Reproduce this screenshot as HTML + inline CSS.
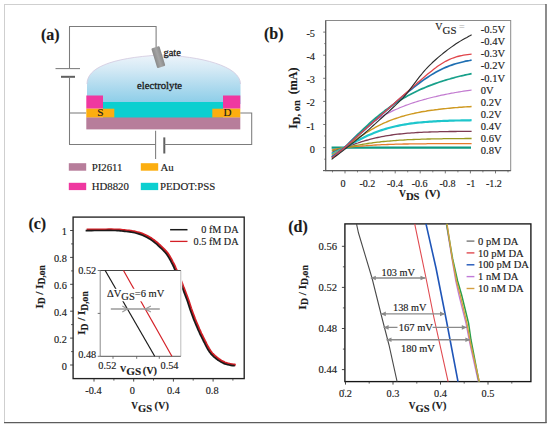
<!DOCTYPE html>
<html><head><meta charset="utf-8"><style>
html,body{margin:0;padding:0;background:#fff;}
body{width:550px;height:427px;overflow:hidden;}
svg{display:block;font-family:"Liberation Serif", serif;}
svg text{fill:#1a1a1a;stroke:#1a1a1a;stroke-width:0.15px;}
</style></head><body>
<svg width="550" height="427" viewBox="0 0 550 427">
<line x1="4" y1="4.5" x2="546" y2="4.5" stroke="#cfcfcf" stroke-width="1"/>
<line x1="4.5" y1="4" x2="4.5" y2="423" stroke="#cfcfcf" stroke-width="1"/>
<line x1="546" y1="4" x2="546" y2="423" stroke="#5c5c5c" stroke-width="1.4"/>
<line x1="4" y1="422.6" x2="546.6" y2="422.6" stroke="#5c5c5c" stroke-width="1.3"/>
<text x="41" y="39.5" font-size="16" font-weight="bold">(a)</text>
<polyline points="69.5,68.6 69.5,26.5 156.1,26.5 156.1,48" stroke="#7c7c7c" stroke-width="1.05" fill="none"/>
<line x1="55.5" y1="68.6" x2="80" y2="68.6" stroke="#7c7c7c" stroke-width="1.05" fill="none"/>
<line x1="61" y1="76.8" x2="75" y2="76.8" stroke="#606060" stroke-width="2"/>
<polyline points="69.5,76.8 69.5,144.4 155.6,144.4" stroke="#7c7c7c" stroke-width="1.05" fill="none"/>
<line x1="69.5" y1="113" x2="86" y2="113" stroke="#7c7c7c" stroke-width="1.05" fill="none"/>
<line x1="155.6" y1="130.7" x2="155.6" y2="159" stroke="#7c7c7c" stroke-width="1.05" fill="none"/>
<line x1="164.3" y1="137.4" x2="164.3" y2="153.5" stroke="#606060" stroke-width="2"/>
<polyline points="164.3,144.4 251.7,144.4 251.7,113 240.2,113" stroke="#7c7c7c" stroke-width="1.05" fill="none"/>
<defs><linearGradient id="dome" x1="0" y1="0" x2="0" y2="1"><stop offset="0" stop-color="#edf4fa"/><stop offset="0.3" stop-color="#d3e9f5"/><stop offset="0.65" stop-color="#aedaee"/><stop offset="1" stop-color="#8acde8"/></linearGradient><linearGradient id="gate" x1="0" y1="0" x2="1" y2="0"><stop offset="0" stop-color="#8a8a8a"/><stop offset="0.5" stop-color="#a4a4a4"/><stop offset="1" stop-color="#8a8a8a"/></linearGradient></defs>
<path d="M87,104 L87,84 C87,68 110,58 160,55 C200,56 240.5,66 240.5,84 L240.5,104 Z" fill="url(#dome)" stroke="none"/>
<path d="M87,84 C87,68 110,58 160,55 C200,56 240.5,66 240.5,84" fill="none" stroke="#d2c8de" stroke-width="0.8"/>
<rect x="103" y="102" width="120" height="16" fill="#0ccfd0"/>
<rect x="86.3" y="95.5" width="16.7" height="13.2" fill="#ef38a0"/>
<rect x="223" y="95.5" width="17.3" height="13.2" fill="#ef38a0"/>
<rect x="86.3" y="108.7" width="28" height="9" fill="#fcae10"/>
<rect x="212.3" y="108.7" width="28" height="9" fill="#fcae10"/>
<rect x="86.3" y="117.5" width="154" height="11.9" fill="#b77d9b"/>
<text x="97.3" y="116.4" font-size="11.3">S</text>
<text x="223.4" y="116.4" font-size="11">D</text>
<text x="137" y="89.2" font-size="10.7" style="stroke-width:0.3px">electrolyte</text>
<rect x="154.2" y="46.8" width="8.5" height="20.6" rx="1" fill="url(#gate)" transform="rotate(-17 158.45 57.5)"/>
<text x="163.5" y="55.7" font-size="10.4" style="stroke-width:0.3px">gate</text>
<rect x="68.8" y="163.2" width="17.4" height="7.5" fill="#b77d9b"/>
<rect x="68.8" y="182.8" width="17.4" height="7.3" fill="#ef38a0"/>
<rect x="140.8" y="163.2" width="17.4" height="7.5" fill="#fcae10"/>
<rect x="140.8" y="182.8" width="17.4" height="7.3" fill="#0ccfd0"/>
<text x="91.7" y="170.5" font-size="10.8">PI2611</text>
<text x="91.7" y="189.5" font-size="10.8">HD8820</text>
<text x="160.5" y="170.5" font-size="10.8">Au</text>
<text x="160" y="189.5" font-size="10.8">PEDOT:PSS</text>
<text x="264" y="38.5" font-size="16" font-weight="bold">(b)</text>
<rect x="325.7" y="20.5" width="185.0" height="150.1" fill="none" stroke="#8a8a8a" stroke-width="1"/>
<polyline points="325.7,20.5 325.7,170.6 510.7,170.6" fill="none" stroke="#5a5a5a" stroke-width="1.1"/>
<line x1="323" y1="170.6" x2="325.7" y2="170.6" stroke="#5a5a5a" stroke-width="1.1"/>
<line x1="323.2" y1="147.6" x2="325.7" y2="147.6" stroke="#555" stroke-width="0.8"/>
<text x="315" y="152.6" font-size="10.3" text-anchor="end">0</text>
<line x1="323.2" y1="124.5" x2="325.7" y2="124.5" stroke="#555" stroke-width="0.8"/>
<text x="315" y="129.5" font-size="10.3" text-anchor="end">-1</text>
<line x1="323.2" y1="101.4" x2="325.7" y2="101.4" stroke="#555" stroke-width="0.8"/>
<text x="315" y="106.4" font-size="10.3" text-anchor="end">-2</text>
<line x1="323.2" y1="78.3" x2="325.7" y2="78.3" stroke="#555" stroke-width="0.8"/>
<text x="315" y="83.3" font-size="10.3" text-anchor="end">-3</text>
<line x1="323.2" y1="55.2" x2="325.7" y2="55.2" stroke="#555" stroke-width="0.8"/>
<text x="315" y="60.2" font-size="10.3" text-anchor="end">-4</text>
<line x1="323.2" y1="32.1" x2="325.7" y2="32.1" stroke="#555" stroke-width="0.8"/>
<text x="315" y="37.1" font-size="10.3" text-anchor="end">-5</text>
<line x1="324.2" y1="159.2" x2="325.7" y2="159.2" stroke="#555" stroke-width="0.7"/>
<line x1="324.2" y1="136.0" x2="325.7" y2="136.0" stroke="#555" stroke-width="0.7"/>
<line x1="324.2" y1="112.9" x2="325.7" y2="112.9" stroke="#555" stroke-width="0.7"/>
<line x1="324.2" y1="89.8" x2="325.7" y2="89.8" stroke="#555" stroke-width="0.7"/>
<line x1="324.2" y1="66.7" x2="325.7" y2="66.7" stroke="#555" stroke-width="0.7"/>
<line x1="324.2" y1="43.6" x2="325.7" y2="43.6" stroke="#555" stroke-width="0.7"/>
<line x1="345.0" y1="170.6" x2="345.0" y2="173.4" stroke="#555" stroke-width="0.8"/>
<line x1="357.5" y1="170.6" x2="357.5" y2="172.4" stroke="#555" stroke-width="0.7"/>
<text x="340.4" y="187.4" font-size="10.1">0</text>
<line x1="370.1" y1="170.6" x2="370.1" y2="173.4" stroke="#555" stroke-width="0.8"/>
<line x1="382.6" y1="170.6" x2="382.6" y2="172.4" stroke="#555" stroke-width="0.7"/>
<text x="359.4" y="187.4" font-size="10.1">-0.2</text>
<line x1="395.2" y1="170.6" x2="395.2" y2="173.4" stroke="#555" stroke-width="0.8"/>
<line x1="407.7" y1="170.6" x2="407.7" y2="172.4" stroke="#555" stroke-width="0.7"/>
<text x="387.0" y="187.4" font-size="10.1">-0.4</text>
<line x1="420.2" y1="170.6" x2="420.2" y2="173.4" stroke="#555" stroke-width="0.8"/>
<line x1="432.8" y1="170.6" x2="432.8" y2="172.4" stroke="#555" stroke-width="0.7"/>
<text x="411.7" y="187.4" font-size="10.1">-0.6</text>
<line x1="445.3" y1="170.6" x2="445.3" y2="173.4" stroke="#555" stroke-width="0.8"/>
<line x1="457.9" y1="170.6" x2="457.9" y2="172.4" stroke="#555" stroke-width="0.7"/>
<text x="439.5" y="187.4" font-size="10.1">-0.8</text>
<line x1="470.4" y1="170.6" x2="470.4" y2="173.4" stroke="#555" stroke-width="0.8"/>
<line x1="482.9" y1="170.6" x2="482.9" y2="172.4" stroke="#555" stroke-width="0.7"/>
<text x="466.8" y="187.4" font-size="10.1">-1</text>
<line x1="495.5" y1="170.6" x2="495.5" y2="173.4" stroke="#555" stroke-width="0.8"/>
<line x1="508.0" y1="170.6" x2="508.0" y2="172.4" stroke="#555" stroke-width="0.7"/>
<text x="485.9" y="187.4" font-size="10.1">-1.2</text>
<line x1="332.5" y1="170.6" x2="332.5" y2="172.4" stroke="#555" stroke-width="0.7"/>
<text x="399" y="196.8" font-size="9.6" font-weight="bold" xml:space="preserve">V<tspan font-size="10.6" dy="3.3">DS</tspan><tspan font-size="11" dy="-3.3">  (V)</tspan></text>
<text transform="translate(297.3 128.8) rotate(-90)" font-size="12" font-weight="bold" xml:space="preserve">I<tspan font-size="10.5" dy="2.6">D, on</tspan><tspan dy="-2.6">  (mA)</tspan></text>
<line x1="331.6" y1="147.6" x2="471" y2="147.6" stroke="#0f9a82" stroke-width="2.4"/>
<polyline points="331.8,150.0 333.8,149.6 335.8,149.2 337.8,148.8 339.8,148.4 341.8,148.0 343.8,147.6 345.8,147.3 347.8,147.1 349.8,147.0 351.8,146.8 353.8,146.6 355.8,146.4 357.8,146.3 359.8,146.1 361.8,146.0 363.8,145.8 365.8,145.7 367.7,145.5 369.7,145.4 371.7,145.3 373.7,145.1 375.7,145.0 377.7,144.9 379.7,144.8 381.7,144.7 383.7,144.6 385.7,144.6 387.7,144.5 389.7,144.4 391.7,144.3 393.7,144.3 395.7,144.2 397.7,144.2 399.7,144.1 401.7,144.1 403.7,144.0 405.7,144.0 407.7,144.0 409.7,143.9 411.7,143.9 413.7,143.9 415.7,143.9 417.7,143.8 419.7,143.8 421.7,143.8 423.7,143.8 425.7,143.8 427.7,143.7 429.7,143.7 431.7,143.7 433.7,143.7 435.7,143.7 437.6,143.7 439.6,143.7 441.6,143.7 443.6,143.7 445.6,143.7 447.6,143.7 449.6,143.7 451.6,143.6 453.6,143.6 455.6,143.6 457.6,143.6 459.6,143.6 461.6,143.6 463.6,143.6 465.6,143.6 467.6,143.6 469.6,143.6 471.6,143.6" fill="none" stroke="#e67a2a" stroke-width="1.3"/>
<polyline points="331.8,151.0 333.8,150.4 335.8,149.9 337.8,149.3 339.8,148.8 341.8,148.2 343.8,147.7 345.8,147.2 347.8,146.9 349.8,146.5 351.8,146.2 353.8,145.8 355.8,145.5 357.8,145.1 359.8,144.8 361.8,144.5 363.8,144.1 365.8,143.8 367.7,143.5 369.7,143.2 371.7,143.0 373.7,142.7 375.7,142.4 377.7,142.2 379.7,142.0 381.7,141.7 383.7,141.5 385.7,141.3 387.7,141.1 389.7,141.0 391.7,140.8 393.7,140.6 395.7,140.5 397.7,140.3 399.7,140.2 401.7,140.1 403.7,140.0 405.7,139.8 407.7,139.7 409.7,139.6 411.7,139.6 413.7,139.5 415.7,139.4 417.7,139.3 419.7,139.3 421.7,139.2 423.7,139.1 425.7,139.1 427.7,139.0 429.7,139.0 431.7,138.9 433.7,138.9 435.7,138.9 437.6,138.8 439.6,138.8 441.6,138.8 443.6,138.7 445.6,138.7 447.6,138.7 449.6,138.7 451.6,138.6 453.6,138.6 455.6,138.6 457.6,138.6 459.6,138.6 461.6,138.6 463.6,138.6 465.6,138.5 467.6,138.5 469.6,138.5 471.6,138.5" fill="none" stroke="#9a9a20" stroke-width="1.3"/>
<polyline points="331.8,152.5 333.8,151.7 335.8,150.9 337.8,150.1 339.8,149.4 341.8,148.6 343.8,147.8 345.8,147.1 347.8,146.4 349.8,145.7 351.8,145.0 353.8,144.3 355.8,143.6 357.8,143.0 359.8,142.3 361.8,141.7 363.8,141.1 365.8,140.5 367.7,140.0 369.7,139.4 371.7,138.9 373.7,138.4 375.7,137.9 377.7,137.5 379.7,137.1 381.7,136.7 383.7,136.3 385.7,135.9 387.7,135.6 389.7,135.3 391.7,135.0 393.7,134.7 395.7,134.4 397.7,134.2 399.7,134.0 401.7,133.8 403.7,133.6 405.7,133.4 407.7,133.2 409.7,133.1 411.7,132.9 413.7,132.8 415.7,132.6 417.7,132.5 419.7,132.4 421.7,132.3 423.7,132.2 425.7,132.2 427.7,132.1 429.7,132.0 431.7,131.9 433.7,131.9 435.7,131.8 437.6,131.8 439.6,131.7 441.6,131.7 443.6,131.6 445.6,131.6 447.6,131.6 449.6,131.5 451.6,131.5 453.6,131.5 455.6,131.5 457.6,131.4 459.6,131.4 461.6,131.4 463.6,131.4 465.6,131.4 467.6,131.4 469.6,131.3 471.6,131.3" fill="none" stroke="#7d3b52" stroke-width="1.3"/>
<polyline points="331.8,154.0 333.8,153.0 335.8,152.0 337.8,151.0 339.8,149.9 341.8,148.9 343.8,147.9 345.8,146.9 347.8,145.8 349.8,144.7 351.8,143.6 353.8,142.5 355.8,141.5 357.8,140.4 359.8,139.4 361.8,138.4 363.8,137.4 365.8,136.5 367.7,135.6 369.7,134.7 371.7,133.9 373.7,133.1 375.7,132.3 377.7,131.5 379.7,130.8 381.7,130.1 383.7,129.5 385.7,128.9 387.7,128.3 389.7,127.7 391.7,127.2 393.7,126.7 395.7,126.2 397.7,125.8 399.7,125.4 401.7,125.0 403.7,124.7 405.7,124.3 407.7,124.0 409.7,123.7 411.7,123.4 413.7,123.2 415.7,122.9 417.7,122.7 419.7,122.5 421.7,122.3 423.7,122.1 425.7,122.0 427.7,121.8 429.7,121.7 431.7,121.6 433.7,121.4 435.7,121.3 437.6,121.2 439.6,121.1 441.6,121.0 443.6,120.9 445.6,120.9 447.6,120.8 449.6,120.7 451.6,120.7 453.6,120.6 455.6,120.5 457.6,120.5 459.6,120.5 461.6,120.4 463.6,120.4 465.6,120.3 467.6,120.3 469.6,120.3 471.6,120.2" fill="none" stroke="#1ec6cc" stroke-width="2.2"/>
<polyline points="331.8,155.0 333.8,153.8 335.8,152.7 337.8,151.5 339.8,150.3 341.8,149.2 343.8,148.0 345.8,146.7 347.8,145.3 349.8,143.8 351.8,142.4 353.8,141.0 355.8,139.6 357.8,138.2 359.8,136.9 361.8,135.6 363.8,134.3 365.8,133.0 367.7,131.8 369.7,130.6 371.7,129.4 373.7,128.3 375.7,127.2 377.7,126.1 379.7,125.1 381.7,124.2 383.7,123.2 385.7,122.4 387.7,121.5 389.7,120.7 391.7,119.9 393.7,119.2 395.7,118.5 397.7,117.8 399.7,117.2 401.7,116.5 403.7,116.0 405.7,115.4 407.7,114.9 409.7,114.4 411.7,113.9 413.7,113.5 415.7,113.0 417.7,112.6 419.7,112.2 421.7,111.8 423.7,111.5 425.7,111.2 427.7,110.8 429.7,110.5 431.7,110.2 433.7,110.0 435.7,109.7 437.6,109.5 439.6,109.2 441.6,109.0 443.6,108.8 445.6,108.6 447.6,108.4 449.6,108.2 451.6,108.0 453.6,107.8 455.6,107.6 457.6,107.5 459.6,107.3 461.6,107.2 463.6,107.0 465.6,106.9 467.6,106.8 469.6,106.7 471.6,106.5" fill="none" stroke="#cf9a22" stroke-width="1.4"/>
<polyline points="331.8,156.0 333.8,154.7 335.8,153.4 337.8,152.0 339.8,150.7 341.8,149.4 343.8,148.1 345.8,146.3 347.8,144.2 349.8,142.0 351.8,140.0 353.8,138.0 355.8,136.1 357.8,134.2 359.8,132.4 361.8,130.7 363.8,129.1 365.8,127.5 367.7,125.9 369.7,124.4 371.7,123.0 373.7,121.6 375.7,120.3 377.7,119.0 379.7,117.8 381.7,116.6 383.7,115.5 385.7,114.4 387.7,113.4 389.7,112.4 391.7,111.4 393.7,110.4 395.7,109.5 397.7,108.7 399.7,107.8 401.7,107.0 403.7,106.2 405.7,105.4 407.7,104.7 409.7,104.0 411.7,103.3 413.7,102.6 415.7,102.0 417.7,101.4 419.7,100.8 421.7,100.2 423.7,99.6 425.7,99.1 427.7,98.5 429.7,98.0 431.7,97.5 433.7,97.0 435.7,96.6 437.6,96.1 439.6,95.7 441.6,95.2 443.6,94.8 445.6,94.4 447.6,94.0 449.6,93.6 451.6,93.2 453.6,92.9 455.6,92.5 457.6,92.2 459.6,91.8 461.6,91.5 463.6,91.2 465.6,90.9 467.6,90.6 469.6,90.3 471.6,90.0" fill="none" stroke="#c27ad0" stroke-width="1.2"/>
<polyline points="331.8,157.0 333.8,155.5 335.8,154.1 337.8,152.6 339.8,151.1 341.8,149.6 343.8,148.2 345.8,146.4 347.8,144.4 349.8,142.4 351.8,140.4 353.8,138.4 355.8,136.4 357.8,134.4 359.8,132.5 361.8,130.6 363.8,128.7 365.8,126.8 367.7,125.0 369.7,123.2 371.7,121.4 373.7,119.7 375.7,118.0 377.7,116.3 379.7,114.7 381.7,113.1 383.7,111.6 385.7,110.0 387.7,108.6 389.7,107.1 391.7,105.7 393.7,104.4 395.7,103.0 397.7,101.7 399.7,100.5 401.7,99.3 403.7,98.1 405.7,96.9 407.7,95.8 409.7,94.8 411.7,93.7 413.7,92.7 415.7,91.7 417.7,90.8 419.7,89.8 421.7,88.9 423.7,88.1 425.7,87.2 427.7,86.4 429.7,85.6 431.7,84.9 433.7,84.1 435.7,83.4 437.6,82.7 439.6,82.0 441.6,81.4 443.6,80.7 445.6,80.1 447.6,79.5 449.6,79.0 451.6,78.4 453.6,77.9 455.6,77.3 457.6,76.8 459.6,76.3 461.6,75.8 463.6,75.4 465.6,74.9 467.6,74.5 469.6,74.1 471.6,73.7" fill="none" stroke="#17a08a" stroke-width="1.7"/>
<polyline points="331.8,157.5 333.8,155.9 335.8,154.4 337.8,152.8 339.8,151.3 341.8,149.7 343.8,148.2 345.8,146.5 347.8,144.8 349.8,143.0 351.8,141.2 353.8,139.4 355.8,137.7 357.8,135.9 359.8,134.1 361.8,132.4 363.8,130.6 365.8,128.8 367.7,127.0 369.7,125.3 371.7,123.5 373.7,121.7 375.7,120.0 377.7,118.2 379.7,116.4 381.7,114.7 383.7,112.9 385.7,111.1 387.7,109.4 389.7,107.6 391.7,105.9 393.7,104.1 395.7,102.4 397.7,100.7 399.7,98.9 401.7,97.2 403.7,95.5 405.7,93.9 407.7,92.2 409.7,90.6 411.7,89.0 413.7,87.4 415.7,85.8 417.7,84.3 419.7,82.8 421.7,81.3 423.7,79.9 425.7,78.5 427.7,77.2 429.7,75.9 431.7,74.6 433.7,73.4 435.7,72.3 437.6,71.2 439.6,70.2 441.6,69.2 443.6,68.3 445.6,67.4 447.6,66.6 449.6,65.8 451.6,65.1 453.6,64.4 455.6,63.8 457.6,63.2 459.6,62.7 461.6,62.2 463.6,61.7 465.6,61.2 467.6,60.8 469.6,60.5 471.6,60.1" fill="none" stroke="#1f6fb2" stroke-width="1.7"/>
<polyline points="331.8,158.0 333.8,156.4 335.8,154.7 337.8,153.1 339.8,151.5 341.8,149.9 343.8,148.2 345.8,146.5 347.8,144.8 349.8,143.0 351.8,141.2 353.8,139.4 355.8,137.6 357.8,135.9 359.8,134.1 361.8,132.3 363.8,130.5 365.8,128.8 367.7,127.0 369.7,125.2 371.7,123.4 373.7,121.6 375.7,119.9 377.7,118.1 379.7,116.3 381.7,114.5 383.7,112.8 385.7,111.0 387.7,109.2 389.7,107.4 391.7,105.6 393.7,103.9 395.7,102.1 397.7,100.3 399.7,98.5 401.7,96.8 403.7,95.0 405.7,93.2 407.7,91.4 409.7,89.7 411.7,87.9 413.7,86.1 415.7,84.4 417.7,82.6 419.7,80.9 421.7,79.2 423.7,77.5 425.7,75.8 427.7,74.1 429.7,72.5 431.7,70.9 433.7,69.3 435.7,67.8 437.6,66.3 439.6,65.0 441.6,63.7 443.6,62.5 445.6,61.3 447.6,60.3 449.6,59.4 451.6,58.5 453.6,57.8 455.6,57.1 457.6,56.5 459.6,56.0 461.6,55.6 463.6,55.2 465.6,54.9 467.6,54.6 469.6,54.3 471.6,54.1" fill="none" stroke="#e0454a" stroke-width="1.3"/>
<polyline points="331.6,159.4 332.7,158.5 334.2,157.4 336.0,156.0 338.0,154.5 340.1,152.9 342.2,151.2 344.4,149.6 346.4,148.0 348.4,146.4 350.4,144.9 352.4,143.2 354.5,141.6 356.6,139.9 358.7,138.2 360.7,136.5 362.8,134.8 364.9,133.0 367.0,131.2 369.1,129.3 371.2,127.4 373.3,125.5 375.4,123.6 377.3,121.8 379.2,120.1 381.0,118.5 382.7,117.0 384.3,115.5 385.8,114.1 387.4,112.8 388.9,111.4 390.4,110.0 392.0,108.5 393.6,107.0 395.1,105.6 396.6,104.2 398.2,102.7 399.7,101.2 401.3,99.7 402.8,98.1 404.4,96.3 406.0,94.4 407.7,92.3 409.4,90.1 411.1,87.8 412.8,85.5 414.5,83.3 416.0,81.3 417.5,79.4 418.8,77.7 420.0,76.2 421.1,74.8 422.2,73.5 423.3,72.2 424.4,70.9 425.6,69.5 426.9,68.1 428.3,66.6 429.8,65.1 431.4,63.6 433.0,62.0 434.7,60.5 436.4,59.0 438.2,57.4 440.0,55.9 441.9,54.4 443.8,52.8 445.8,51.2 447.8,49.6 449.9,48.1 452.0,46.6 454.0,45.2 456.0,43.8 458.1,42.5 460.3,41.1 462.6,39.8 464.8,38.5 466.9,37.4 468.8,36.3 470.4,35.5 471.6,34.8" fill="none" stroke="#2a2a2a" stroke-width="1.1"/>
<text x="435.3" y="30.3" font-size="10">V<tspan font-size="10.9" dy="3.2">GS</tspan></text>
<text x="459" y="30.3" font-size="10" fill="#aaa" style="fill:#aaa;stroke:#aaa">=</text>
<text x="480.8" y="33.2" font-size="10.5">-0.5V</text>
<text x="480.8" y="45.3" font-size="10.5">-0.4V</text>
<text x="480.8" y="57.3" font-size="10.5">-0.3V</text>
<text x="480.8" y="69.4" font-size="10.5">-0.2V</text>
<text x="480.8" y="81.5" font-size="10.5">-0.1V</text>
<text x="480.8" y="93.6" font-size="10.5">0V</text>
<text x="480.8" y="105.6" font-size="10.5">0.2V</text>
<text x="480.8" y="117.7" font-size="10.5">0.2V</text>
<text x="480.8" y="129.8" font-size="10.5">0.4V</text>
<text x="480.8" y="141.8" font-size="10.5">0.6V</text>
<text x="480.8" y="153.9" font-size="10.5">0.8V</text>
<text x="28.4" y="228.6" font-size="16" font-weight="bold">(c)</text>
<rect x="73.1" y="217.1" width="171.1" height="161.50000000000003" fill="none" stroke="#222" stroke-width="1.35"/>
<line x1="70.1" y1="365.0" x2="73.1" y2="365.0" stroke="#333" stroke-width="0.9"/>
<text x="66.8" y="369.5" font-size="10.3" text-anchor="end">0</text>
<line x1="71.1" y1="351.6" x2="73.1" y2="351.6" stroke="#333" stroke-width="0.8"/>
<line x1="70.1" y1="338.1" x2="73.1" y2="338.1" stroke="#333" stroke-width="0.9"/>
<text x="66.8" y="342.6" font-size="10.3" text-anchor="end">0.2</text>
<line x1="71.1" y1="324.6" x2="73.1" y2="324.6" stroke="#333" stroke-width="0.8"/>
<line x1="70.1" y1="311.2" x2="73.1" y2="311.2" stroke="#333" stroke-width="0.9"/>
<text x="66.8" y="315.7" font-size="10.3" text-anchor="end">0.4</text>
<line x1="71.1" y1="297.8" x2="73.1" y2="297.8" stroke="#333" stroke-width="0.8"/>
<line x1="70.1" y1="284.3" x2="73.1" y2="284.3" stroke="#333" stroke-width="0.9"/>
<text x="66.8" y="288.8" font-size="10.3" text-anchor="end">0.6</text>
<line x1="71.1" y1="270.9" x2="73.1" y2="270.9" stroke="#333" stroke-width="0.8"/>
<line x1="70.1" y1="257.4" x2="73.1" y2="257.4" stroke="#333" stroke-width="0.9"/>
<text x="66.8" y="261.9" font-size="10.3" text-anchor="end">0.8</text>
<line x1="71.1" y1="243.9" x2="73.1" y2="243.9" stroke="#333" stroke-width="0.8"/>
<line x1="70.1" y1="230.5" x2="73.1" y2="230.5" stroke="#333" stroke-width="0.9"/>
<text x="66.8" y="235.0" font-size="10.3" text-anchor="end">1</text>
<line x1="94.0" y1="378.6" x2="94.0" y2="381.6" stroke="#333" stroke-width="0.9"/>
<text x="93.4" y="394" font-size="10.3" text-anchor="middle">-0.4</text>
<line x1="133.7" y1="378.6" x2="133.7" y2="381.6" stroke="#333" stroke-width="0.9"/>
<text x="132.3" y="394" font-size="10.3" text-anchor="middle">0</text>
<line x1="173.4" y1="378.6" x2="173.4" y2="381.6" stroke="#333" stroke-width="0.9"/>
<text x="173.4" y="394" font-size="10.3" text-anchor="middle">0.4</text>
<line x1="213.1" y1="378.6" x2="213.1" y2="381.6" stroke="#333" stroke-width="0.9"/>
<text x="212.1" y="394" font-size="10.3" text-anchor="middle">0.8</text>
<line x1="113.9" y1="378.6" x2="113.9" y2="380.6" stroke="#333" stroke-width="0.8"/>
<line x1="153.5" y1="378.6" x2="153.5" y2="380.6" stroke="#333" stroke-width="0.8"/>
<line x1="193.2" y1="378.6" x2="193.2" y2="380.6" stroke="#333" stroke-width="0.8"/>
<line x1="232.9" y1="378.6" x2="232.9" y2="380.6" stroke="#333" stroke-width="0.8"/>
<text x="131.3" y="408.7" font-size="9.3" font-weight="bold" xml:space="preserve">V<tspan font-size="10.5" dy="3.2">GS</tspan><tspan font-size="10.3" dy="-3.2"> (V)</tspan></text>
<text transform="translate(42.5 308.6) rotate(-90)" font-size="11" font-weight="bold">I<tspan font-size="9.6" dy="2.4">D</tspan><tspan dy="-2.4"> / I</tspan><tspan font-size="9.6" dy="2.4">D,on</tspan></text>
<polyline points="86.6,229.7 88.1,229.7 90.2,229.7 92.7,229.7 95.4,229.6 98.1,229.6 100.7,229.6 103.3,229.6 106.0,229.6 108.8,229.5 111.5,229.5 114.0,229.6 116.3,229.6 118.2,229.7 119.9,229.8 121.3,229.9 122.8,230.1 124.2,230.2 125.7,230.4 127.3,230.6 129.0,230.8 130.7,231.0 132.4,231.3 134.1,231.5 135.7,231.9 137.3,232.3 138.9,232.7 140.4,233.2 142.0,233.7 143.5,234.3 145.1,235.0 146.7,235.8 148.2,236.6 149.8,237.5 151.3,238.4 152.8,239.5 154.4,240.6 156.0,241.9 157.7,243.3 159.4,244.8 161.0,246.4 162.5,247.8 163.8,249.1 164.9,250.2 165.7,251.1 166.4,251.9 167.1,252.7 167.8,253.6 168.5,254.7 169.3,255.9 170.1,257.3 171.0,258.8 171.8,260.3 172.5,261.7 173.2,263.0 173.8,264.1 174.2,265.1 174.7,266.0 175.1,267.0 175.6,268.2 176.3,269.7 177.1,271.6 178.1,273.9 179.1,276.4 180.2,278.9 181.2,281.5 182.2,284.0 183.1,286.4 184.1,288.8 185.0,291.2 185.9,293.6 186.8,296.0 187.7,298.4 188.6,300.9 189.4,303.3 190.2,305.8 191.0,308.3 191.9,310.9 192.8,313.4 193.8,316.0 194.8,318.7 195.9,321.4 197.0,324.0 198.1,326.5 199.1,328.9 200.1,331.1 201.0,333.2 202.0,335.1 202.9,337.0 203.8,338.8 204.7,340.6 205.6,342.3 206.4,344.0 207.3,345.7 208.1,347.2 208.9,348.6 209.7,349.9 210.4,351.0 211.1,351.9 211.7,352.7 212.4,353.5 213.1,354.2 213.9,355.0 214.8,355.9 215.8,356.7 216.9,357.6 218.0,358.5 219.1,359.3 220.2,360.0 221.3,360.7 222.4,361.3 223.6,361.9 224.7,362.5 225.9,363.0 227.2,363.4 228.6,363.8 230.2,364.1 231.9,364.4 233.4,364.7 234.8,364.8 235.7,365.0" fill="none" stroke="#d41f26" stroke-width="2.4" stroke-linejoin="round"/>
<polyline points="85.6,230.6 87.1,230.6 89.2,230.6 91.7,230.6 94.4,230.5 97.1,230.5 99.7,230.5 102.3,230.5 105.0,230.5 107.8,230.4 110.5,230.4 113.0,230.5 115.3,230.5 117.2,230.6 118.9,230.7 120.3,230.8 121.8,231.0 123.2,231.1 124.7,231.3 126.3,231.5 128.0,231.7 129.7,231.9 131.4,232.2 133.1,232.4 134.7,232.8 136.3,233.2 137.9,233.6 139.4,234.1 141.0,234.6 142.5,235.2 144.1,235.9 145.7,236.7 147.2,237.5 148.8,238.4 150.3,239.3 151.8,240.4 153.4,241.5 155.0,242.8 156.7,244.2 158.4,245.8 160.0,247.3 161.5,248.7 162.8,250.0 163.9,251.1 164.7,252.0 165.4,252.8 166.1,253.6 166.8,254.5 167.5,255.6 168.3,256.8 169.1,258.2 170.0,259.7 170.8,261.2 171.5,262.6 172.2,263.9 172.8,265.0 173.2,266.0 173.7,266.9 174.1,267.9 174.6,269.1 175.3,270.6 176.1,272.5 177.1,274.8 178.1,277.3 179.2,279.8 180.2,282.4 181.2,284.9 182.1,287.3 183.1,289.7 184.0,292.1 184.9,294.5 185.8,296.9 186.7,299.3 187.6,301.8 188.4,304.2 189.2,306.7 190.0,309.2 190.9,311.8 191.8,314.3 192.8,316.9 193.8,319.6 194.9,322.3 196.0,324.9 197.1,327.4 198.1,329.8 199.1,332.0 200.0,334.1 201.0,336.0 201.9,337.9 202.8,339.7 203.7,341.5 204.6,343.2 205.4,344.9 206.3,346.6 207.1,348.1 207.9,349.5 208.7,350.8 209.4,351.9 210.1,352.8 210.7,353.6 211.4,354.4 212.1,355.1 212.9,355.9 213.8,356.8 214.8,357.6 215.9,358.5 217.0,359.4 218.1,360.2 219.2,360.9 220.3,361.6 221.4,362.2 222.6,362.8 223.7,363.4 224.9,363.9 226.2,364.3 227.6,364.7 229.2,365.0 230.9,365.3 232.4,365.6 233.8,365.7 234.7,365.9" fill="none" stroke="#1a1a1a" stroke-width="1.7" stroke-linejoin="round"/>
<line x1="170.1" y1="229.7" x2="187.5" y2="229.7" stroke="#1a1a1a" stroke-width="1.5"/>
<line x1="170.1" y1="241.4" x2="187.5" y2="241.4" stroke="#d41f26" stroke-width="1.3"/>
<text x="238.6" y="233.3" font-size="10.2" text-anchor="end">0 fM DA</text>
<text x="238.6" y="244.9" font-size="10.2" text-anchor="end">0.5 fM DA</text>
<rect x="100.2" y="270.5" width="82.00000000000001" height="85.80000000000001" fill="#fff" stroke="none"/>
<line x1="100.2" y1="270.5" x2="100.2" y2="356.3" stroke="#8a8a8a" stroke-width="1"/>
<line x1="180.8" y1="270.5" x2="180.8" y2="356.3" stroke="#bdbdbd" stroke-width="1"/>
<line x1="100.2" y1="270.5" x2="180.8" y2="270.5" stroke="#444" stroke-width="1"/>
<line x1="100.2" y1="356.3" x2="180.8" y2="356.3" stroke="#555" stroke-width="1"/>
<line x1="97.7" y1="270.5" x2="100.2" y2="270.5" stroke="#555" stroke-width="0.8"/>
<line x1="97.7" y1="313.4" x2="100.2" y2="313.4" stroke="#555" stroke-width="0.8"/>
<line x1="97.7" y1="356.3" x2="100.2" y2="356.3" stroke="#555" stroke-width="0.8"/>
<line x1="113" y1="356.3" x2="113" y2="358.8" stroke="#555" stroke-width="0.8"/>
<line x1="136.7" y1="356.3" x2="136.7" y2="358.8" stroke="#555" stroke-width="0.8"/>
<line x1="159.3" y1="356.3" x2="159.3" y2="358.8" stroke="#555" stroke-width="0.8"/>
<line x1="105.2" y1="270.5" x2="154.7" y2="356.3" stroke="#1a1a1a" stroke-width="1.2"/>
<line x1="123.5" y1="270.5" x2="171.9" y2="356.3" stroke="#d41f26" stroke-width="1.2"/>
<rect x="106" y="288.8" width="60" height="12.5" fill="#fff"/>
<text x="107" y="297.3" font-size="10.5">ΔV<tspan dy="2.6">GS</tspan><tspan dy="-2.6">=6 mV</tspan></text>
<line x1="110.8" y1="309" x2="159.8" y2="309" stroke="#9a9a9a" stroke-width="1.4"/>
<polyline points="122.3,306 127.4,309 122.3,312" fill="none" stroke="#9a9a9a" stroke-width="1.1"/>
<polyline points="150.9,306 145.3,309 150.9,312" fill="none" stroke="#9a9a9a" stroke-width="1.1"/>
<text x="96.2" y="274.4" font-size="10.3" text-anchor="end">0.52</text>
<text x="96.2" y="358" font-size="10.3" text-anchor="end">0.48</text>
<text x="98.3" y="369.3" font-size="10.3">0.52</text>
<text x="160.5" y="369" font-size="10.3">0.54</text>
<text x="120" y="371.8" font-size="8.6" font-weight="bold">V<tspan font-size="11.2" dy="3.5">GS</tspan><tspan font-size="10.3" dx="1.6" dy="-1.5">(V)</tspan></text>
<text transform="translate(85.3 334.8) rotate(-90)" font-size="11" font-weight="bold">I<tspan font-size="9.6" dy="2.4">D</tspan><tspan dy="-2.4"> / I</tspan><tspan font-size="9.6" dy="2.4">D,on</tspan></text>
<text x="288.2" y="232.4" font-size="16" font-weight="bold">(d)</text>
<rect x="344.9" y="223.9" width="186.0" height="157.70000000000002" fill="none" stroke="#151515" stroke-width="1.35"/>
<line x1="341.9" y1="246.3" x2="344.9" y2="246.3" stroke="#333" stroke-width="0.9"/>
<text x="337" y="249.9" font-size="10.6" text-anchor="end">0.56</text>
<line x1="342.9" y1="266.8" x2="344.9" y2="266.8" stroke="#333" stroke-width="0.8"/>
<line x1="341.9" y1="287.4" x2="344.9" y2="287.4" stroke="#333" stroke-width="0.9"/>
<text x="337" y="291.0" font-size="10.6" text-anchor="end">0.52</text>
<line x1="342.9" y1="307.9" x2="344.9" y2="307.9" stroke="#333" stroke-width="0.8"/>
<line x1="341.9" y1="328.5" x2="344.9" y2="328.5" stroke="#333" stroke-width="0.9"/>
<text x="337" y="332.1" font-size="10.6" text-anchor="end">0.48</text>
<line x1="342.9" y1="349.1" x2="344.9" y2="349.1" stroke="#333" stroke-width="0.8"/>
<line x1="341.9" y1="369.6" x2="344.9" y2="369.6" stroke="#333" stroke-width="0.9"/>
<text x="337" y="373.2" font-size="10.6" text-anchor="end">0.44</text>
<line x1="342.9" y1="390.1" x2="344.9" y2="390.1" stroke="#333" stroke-width="0.8"/>
<line x1="345.5" y1="381.6" x2="345.5" y2="384.6" stroke="#333" stroke-width="0.9"/>
<text x="345.5" y="397" font-size="10.3" text-anchor="middle">0.2</text>
<line x1="369.2" y1="381.6" x2="369.2" y2="383.6" stroke="#333" stroke-width="0.8"/>
<line x1="393.0" y1="381.6" x2="393.0" y2="384.6" stroke="#333" stroke-width="0.9"/>
<text x="393.0" y="397" font-size="10.3" text-anchor="middle">0.3</text>
<line x1="416.8" y1="381.6" x2="416.8" y2="383.6" stroke="#333" stroke-width="0.8"/>
<line x1="440.5" y1="381.6" x2="440.5" y2="384.6" stroke="#333" stroke-width="0.9"/>
<text x="440.5" y="397" font-size="10.3" text-anchor="middle">0.4</text>
<line x1="464.2" y1="381.6" x2="464.2" y2="383.6" stroke="#333" stroke-width="0.8"/>
<line x1="488.0" y1="381.6" x2="488.0" y2="384.6" stroke="#333" stroke-width="0.9"/>
<text x="488.0" y="397" font-size="10.3" text-anchor="middle">0.5</text>
<line x1="511.8" y1="381.6" x2="511.8" y2="383.6" stroke="#333" stroke-width="0.8"/>
<text x="408.8" y="408.6" font-size="9.3" font-weight="bold" xml:space="preserve">V<tspan font-size="10.5" dy="3.6">GS</tspan><tspan font-size="10.3" dy="-3.6"> (V)</tspan></text>
<text transform="translate(305.5 309.4) rotate(-90)" font-size="11.2" font-weight="bold">I<tspan font-size="9.8" dy="2.5">D</tspan><tspan dy="-2.5"> / I</tspan><tspan font-size="9.8" dy="2.5">D,on</tspan></text>
<polyline points="356.5,223.9 358.5,233 372,278 382,318 389,345 397.1,381.6" fill="none" stroke="#4a4a4a" stroke-width="1.1"/>
<polyline points="414.7,223.9 426,278 434,318 448.1,381.6" fill="none" stroke="#e04a50" stroke-width="1.1"/>
<polyline points="426,223.9 436,268 446.3,320 458,381.6" fill="none" stroke="#1f55b8" stroke-width="1.6"/>
<polyline points="446.3,223.9 452,258.7 455.8,281 459,295.3 466,323.4 469.8,343 478.3,381.6" fill="none" stroke="#c07ad8" stroke-width="1.3"/>
<polyline points="446.6,223.9 452.6,258.7 457.6,281 461.7,295.3 468.6,323.4 471,340 479,381.6" fill="none" stroke="#2aa04a" stroke-width="1.5"/>
<polyline points="447,223.9 452.3,258.7 456.5,281 460.3,295.3 467,323.4 470.5,343 479.3,381.6" fill="none" stroke="#d4a040" stroke-width="1.4"/>
<line x1="370.8" y1="278.0" x2="425.5" y2="278.0" stroke="#8a8a8a" stroke-width="1.4"/>
<polygon points="370.8,278.0 375.8,275.7 375.8,280.3" fill="#8a8a8a"/>
<polygon points="425.5,278.0 420.5,275.7 420.5,280.3" fill="#8a8a8a"/>
<line x1="380.8" y1="313.9" x2="445.0" y2="313.9" stroke="#8a8a8a" stroke-width="1.4"/>
<polygon points="380.8,313.9 385.8,311.59999999999997 385.8,316.2" fill="#8a8a8a"/>
<polygon points="445.0,313.9 440.0,311.59999999999997 440.0,316.2" fill="#8a8a8a"/>
<line x1="383.6" y1="327.4" x2="466.8" y2="327.4" stroke="#8a8a8a" stroke-width="1.4"/>
<polygon points="383.6,327.4 388.6,325.09999999999997 388.6,329.7" fill="#8a8a8a"/>
<polygon points="466.8,327.4 461.8,325.09999999999997 461.8,329.7" fill="#8a8a8a"/>
<line x1="386.5" y1="339.7" x2="470.4" y2="339.7" stroke="#8a8a8a" stroke-width="1.4"/>
<polygon points="386.5,339.7 391.5,337.4 391.5,342.0" fill="#8a8a8a"/>
<polygon points="470.4,339.7 465.4,337.4 465.4,342.0" fill="#8a8a8a"/>
<rect x="397.5" y="321.5" width="35" height="11" fill="#fff"/>
<text x="381.5" y="275.9" font-size="10.3">103 mV</text>
<text x="393" y="310.8" font-size="10.3">138 mV</text>
<text x="398.8" y="331.1" font-size="10.5">167 mV</text>
<text x="401" y="352.2" font-size="10.4">180 mV</text>
<line x1="466.6" y1="241.1" x2="474.4" y2="241.1" stroke="#777" stroke-width="1.4"/>
<text x="478" y="244.7" font-size="10.55">0 pM DA</text>
<line x1="466.6" y1="252.9" x2="474.4" y2="252.9" stroke="#e04a50" stroke-width="1.4"/>
<text x="478" y="256.6" font-size="10.55">10 pM DA</text>
<line x1="466.6" y1="264.8" x2="474.4" y2="264.8" stroke="#1f55b8" stroke-width="1.4"/>
<text x="478" y="268.4" font-size="10.55">100 pM DA</text>
<line x1="466.6" y1="276.6" x2="474.4" y2="276.6" stroke="#c07ad8" stroke-width="1.4"/>
<text x="478" y="280.2" font-size="10.55">1 nM DA</text>
<line x1="466.6" y1="288.5" x2="474.4" y2="288.5" stroke="#d4a040" stroke-width="1.4"/>
<text x="478" y="292.1" font-size="10.55">10 nM DA</text>
</svg>
</body></html>
